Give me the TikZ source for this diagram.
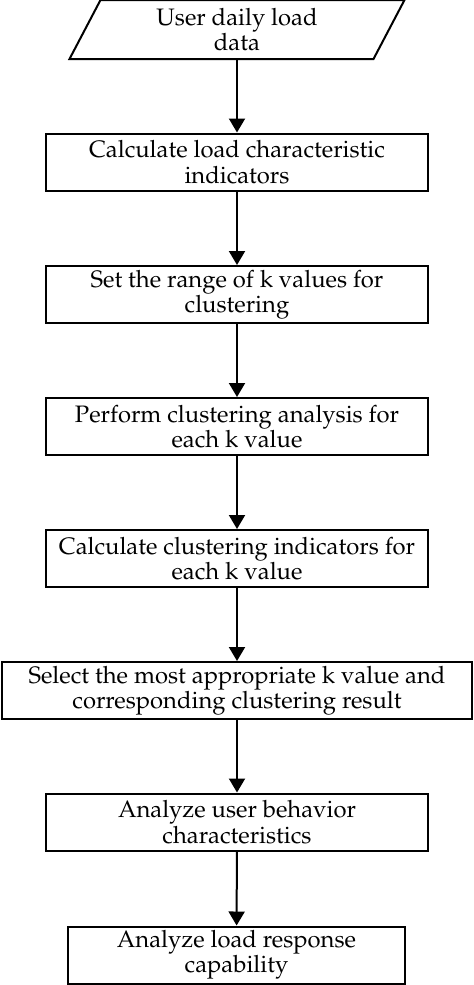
\documentclass[tikz,border=0pt]{standalone}
\usepackage[T1]{fontenc}
\usepackage{mathpazo}
\usetikzlibrary{arrows.meta, calc}

\tikzset{
  stepbox/.style={draw, line width=1pt, minimum height=28.5pt, align=center,
    inner sep=0pt, font=\fontsize{11.9}{12.7}\selectfont},
  flow/.style={line width=1pt, -{Triangle[width=8pt,length=7pt]}}
}

\begin{document}
\begin{tikzpicture}[x=0.5pt,y=-0.5pt]
\useasboundingbox (0,0) rectangle (474,985);
% input
\node[stepbox, draw=none, minimum width=151pt] (data) at (237,29.5) {User daily load\\data};
\draw[line width=1pt] ($(data.north west)+(15.5,0)$) -- ($(data.north east)+(15.5,0)$)
  -- ($(data.south east)+(-15.5,0)$) -- ($(data.south west)+(-15.5,0)$) -- cycle;
% steps
\node[stepbox, minimum width=191pt] (calc) at (237,162) {Calculate load characteristic\\indicators};
\node[stepbox, minimum width=191pt] (range) at (237,294.5) {Set the range of k values for\\clustering};
\node[stepbox, minimum width=191pt] (clus) at (237,426.5) {Perform clustering analysis for\\each k value};
\node[stepbox, minimum width=191pt] (ind) at (237,558.5) {Calculate clustering indicators for\\each k value};
\node[stepbox, minimum width=235pt] (sel) at (237,690.5) {Select the most appropriate k value and\\corresponding clustering result};
\node[stepbox, minimum width=191pt] (beh) at (237,822) {Analyze user behavior\\characteristics};
\node[stepbox, minimum width=168.5pt] (resp) at (236.5,955) {Analyze load response\\capability};
% arrows
\draw[flow] (data) -- (calc);
\draw[flow] (calc) -- (range);
\draw[flow] (range) -- (clus);
\draw[flow] (clus) -- (ind);
\draw[flow] (ind) -- (sel);
\draw[flow] (sel) -- (beh);
\draw[flow] (beh) -- (resp);
\end{tikzpicture}
\end{document}
